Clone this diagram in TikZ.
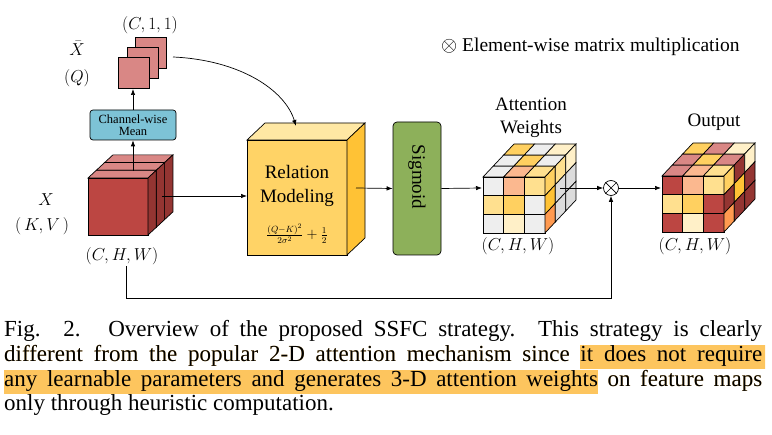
\documentclass[tikz,border=0pt]{standalone}
\usepackage{fontspec}
\setmainfont{Liberation Serif}
\usetikzlibrary{arrows.meta}
\definecolor{cg}{HTML}{EEEEEE}\definecolor{cgd}{HTML}{DCDCDC}
\definecolor{cs}{HTML}{FBB88F}\definecolor{cy}{HTML}{FFE08F}
\definecolor{cY}{HTML}{FFD060}\definecolor{cO}{HTML}{FF9A50}
\definecolor{cc}{HTML}{FFF0C8}\definecolor{cr}{HTML}{BC4642}
\definecolor{cp}{HTML}{D98785}\definecolor{cd}{HTML}{943532}
\definecolor{cG}{HTML}{FFC235}\definecolor{hl}{HTML}{FDC55E}
\definecolor{rf}{HTML}{FFD366}\definecolor{rt}{HTML}{FFE8A4}
\definecolor{sg}{HTML}{8DB05A}\definecolor{cm}{HTML}{7DC3D6}
\newcommand\solidbox[9]{%
 \filldraw[fill=#7,line width=0.7pt] (#1,#2) rectangle ++(#3,#4);
 \filldraw[fill=#8,line width=0.7pt] (#1,#2) -- ++(#5,#6) -- ++(#3,0) -- ++(-#5,-#6) -- cycle;
 \filldraw[fill=#9,line width=0.7pt] (#1+#3,#2) -- ++(#5,#6) -- ++(0,#4) -- ++(-#5,-#6) -- cycle;}
\newcommand\gridcube[9]{%
 \foreach \c [count=\k from 0] in {#7}{%
  \pgfmathsetmacro\rr{int(\k/3)}\pgfmathsetmacro\cc{mod(\k,3)}%
  \filldraw[fill=\c,line width=0.7pt] (#1+\cc*#3/3,#2+\rr*#4/3) rectangle ++(#3/3,#4/3);}
 \foreach \c [count=\k from 0] in {#8}{%
  \pgfmathsetmacro\jj{int(\k/3)}\pgfmathsetmacro\cc{mod(\k,3)}%
  \filldraw[fill=\c,line width=0.7pt] (#1+\cc*#3/3+\jj*#5/3,#2+\jj*#6/3) -- ++(#3/3,0) -- ++(#5/3,#6/3) -- ++(-#3/3,0) -- cycle;}
 \foreach \c [count=\k from 0] in {#9}{%
  \pgfmathsetmacro\rr{int(\k/3)}\pgfmathsetmacro\jj{mod(\k,3)}%
  \filldraw[fill=\c,line width=0.7pt] (#1+#3+\jj*#5/3,#2+\rr*#4/3+\jj*#6/3) -- ++(#5/3,#6/3) -- ++(0,#4/3) -- ++(-#5/3,-#6/3) -- cycle;}}
\newcommand\hlbarR{\rlap{\color{hl}\rule[-7pt]{500pt}{24pt}}}
\newcommand\hlbarL{\llap{\color{hl}\rule[-7pt]{900pt}{24pt}}}
\begin{document}
\begin{tikzpicture}[x=1pt,y=-1pt,
 arr/.style={-{Latex[length=6pt,width=4.5pt]},line width=0.7pt},
 lbl/.style={font=\fontsize{17}{18}\selectfont,inner sep=0pt},
 captxt/.style={anchor=base west,inner sep=0pt,font=\fontsize{23}{25}\selectfont}]
\useasboundingbox (0,0) rectangle (772,435);
% highlights
\begin{scope}
\clip (4,340) rectangle (765,400);
\node[captxt] (h2) at (4,362) {\makebox[758pt][s]{\color{hl}different from the popular 2-D attention mechanism since \hlbarR it does not require}};
\node[captxt] (h3) at (4,387) {\makebox[758pt][s]{\color{hl}any learnable parameters and generates 3-D attention weights\hlbarL\ on feature maps}};
\end{scope}
% X cube (three slices)
\solidbox{104.6}{162.6}{60}{57}{8.3}{-7.7}{cr}{cp}{cd}
\solidbox{96.3}{170.3}{60}{57}{8.3}{-7.7}{cr}{cp}{cd}
\solidbox{88}{178}{60}{57}{8.3}{-7.7}{cr}{cp}{cd}
\node[lbl,font=\fontsize{19}{20}\selectfont] (xl) at (46,200) {$X$};
\node[lbl,font=\fontsize{19}{20}\selectfont] (kv) at (42,226) {$(\,K,V\,)$};
\node[lbl] (chw1) at (122,256) {$(C,H,W)$};
\coordinate (xtop) at (133,171);
\coordinate (xright) at (162,196);
\coordinate (xbot) at (126,266);
% channel-wise mean
\node[draw,fill=cm,rounded corners=3pt,line width=0.7pt,minimum width=86pt,minimum height=30pt,align=center,inner sep=1pt,font=\fontsize{12.5}{12.5}\selectfont] (cwm) at (133,125) {Channel-wise\\Mean};
% Q squares
\filldraw[fill=cp,line width=0.6pt] (135,37) rectangle ++(31,31);
\filldraw[fill=cp,line width=0.6pt] (127,47) rectangle ++(31,31);
\filldraw[fill=cp,line width=0.6pt] (118,57) rectangle ++(31,31);
\coordinate (qbot) at (133,89);
\coordinate (qright) at (173,57);
\node[lbl,font=\fontsize{19}{20}\selectfont] (xb) at (77,48) {$\bar{X}$};
\node[lbl,font=\fontsize{19}{20}\selectfont] (q) at (77,78) {$(Q)$};
\node[lbl] (c11) at (150,25) {$(C,1,1)$};
% relation modeling
\solidbox{247}{140}{100}{115}{18}{-17}{rf}{rt}{cG}
\node[inner sep=0pt,align=center,font=\fontsize{19}{24}\selectfont] (rel) at (297,186) {Relation\\Modeling};
\node[inner sep=0pt,font=\fontsize{13.5}{14}\selectfont] (form) at (297,234) {$\frac{(Q-K)^2}{2\sigma^2}+\frac{1}{2}$};
\coordinate (rtop) at (296,126);
\coordinate (rleft) at (247,196);
\coordinate (rright) at (356,188);
% sigmoid
\node[draw,fill=sg,rounded corners=4pt,line width=0.7pt,minimum width=48pt,minimum height=133pt,inner sep=0pt] (sig) at (417,188.5) {};
\node[rotate=-90,font=\fontsize{19}{20}\selectfont,inner sep=0pt] (sigt) at (417,177) {Sigmoid};
% attention cube
\gridcube{483}{177}{62}{56}{31}{-33}{cg,cs,cy,cy,cY,cg,cg,cc,cg}{cg,cs,cy,cg,cY,cg,cY,cg,cc}{cY,cy,cc,cG,cgd,cgd,cO,cgd,cgd}
\node[lbl,align=center,font=\fontsize{19}{23}\selectfont] (attl) at (531,118) {Attention\\Weights};
\node[lbl] (chw2) at (518,246) {$(C,H,W)$};
\coordinate (aleft) at (482,188);
\coordinate (aright) at (560,188);
% otimes
\node[draw,circle,line width=0.7pt,minimum size=15pt,inner sep=0pt] (ot) at (611,188) {};
\draw[line width=0.7pt] (ot.north west) -- (ot.south east) (ot.north east) -- (ot.south west);
% output cube
\gridcube{662}{176}{62}{56}{31}{-33}{cr,cs,cy,cy,cY,cr,cr,cc,cr}{cp,cs,cy,cp,cY,cp,cY,cp,cc}{cY,cd,cc,cd,cG,cd,cO,cd,cd}
\node[lbl,font=\fontsize{19}{20}\selectfont] (outl) at (714,122) {Output};
\node[lbl] (chw3) at (695,246) {$(C,H,W)$};
\coordinate (oleft) at (661,188);
% legend
\node[anchor=west,inner sep=0pt,font=\fontsize{19.5}{20}\selectfont] (leg) at (441,47) {$\otimes$ Element-wise matrix multiplication};
% arrows
\draw[arr] (xtop) -- (cwm.south);
\draw[arr] (cwm.north) -- (qbot);
\draw[arr] (qright) .. controls (240,60) and (285,90) .. (rtop);
\draw[arr] (xright) -- (rleft);
\draw[arr] (rright) -- (sig.west);
\draw[arr] (sig.east) -- (aleft);
\draw[arr] (aright) -- (ot.west);
\draw[arr] (ot.east) -- (oleft);
\draw[arr] (xbot) |- (611,298) -- (ot.south);
% caption
\node[captxt] (l1) at (4,337) {\makebox[758pt][s]{Fig. 2.\hspace{1.2em}Overview of the proposed SSFC strategy. This strategy is clearly}};
\node[captxt] (l2) at (4,362) {\makebox[758pt][s]{different from the popular 2-D attention mechanism since it does not require}};
\node[captxt] (l3) at (4,387) {\makebox[758pt][s]{any learnable parameters and generates 3-D attention weights on feature maps}};
\node[captxt] (l4) at (4,411) {only through heuristic computation.};
\end{tikzpicture}
\end{document}
